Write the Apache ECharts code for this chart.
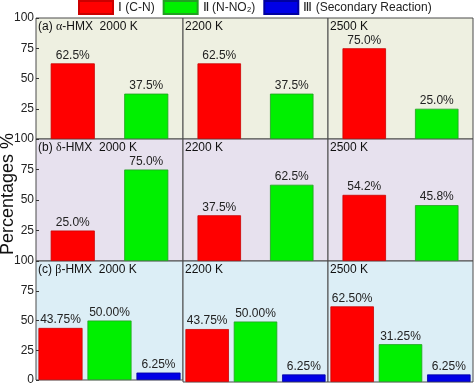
<!DOCTYPE html>
<html>
<head>
<meta charset="utf-8">
<script src="https://cdn.jsdelivr.net/npm/echarts@6/dist/echarts.min.js"></script>
<style>html,body{margin:0;padding:0;background:#fff}#c{width:474px;height:386px}</style>
</head>
<body>
<div id="c"></div>
<script>
// ---- data ----
const temperatures = ['2000 K', '2200 K', '2500 K'];
const phaseLabels = ['(a) α-HMX', '(b) δ-HMX', '(c) β-HMX'];
const seriesNames = ['Ⅰ (C-N)', 'Ⅱ (N-NO₂)', 'Ⅲ (Secondary Reaction)'];
const categoriesAB = ['Ⅰ', 'Ⅱ'];
const categoriesC = ['Ⅰ', 'Ⅱ', 'Ⅲ'];
const alphaI = [62.5, 62.5, 75.0];
const alphaII = [37.5, 37.5, 25.0];
const deltaI = [25.0, 37.5, 54.2];
const deltaII = [75.0, 62.5, 45.8];
const betaI = [43.75, 43.75, 62.50];
const betaII = [50.00, 50.00, 31.25];
const betaIII = [6.25, 6.25, 6.25];
const yTickValues = [0, 25, 50, 75, 100];

// ---- layout ----
const rows = [
  { cats: categoriesAB, vals: [alphaI, alphaII], bg: '#eef0e1', dec: 1 },
  { cats: categoriesAB, vals: [deltaI, deltaII], bg: '#e7e1ee', dec: 1 },
  { cats: categoriesC, vals: [betaI, betaII, betaIII], bg: '#dceef6', dec: 2 }
];
const colLeft = [36, 183, 328];
const colWidth = [147, 145, 145];
const rowTop = [18, 139, 261];
const rowHeight = [121, 122, 121];
const colors = ['#ff0000', '#00f000', '#0000e6'];
const borders = ['#cc0000', '#22a022', '#0000a0'];
const sans = 'Liberation Sans, Arial';
const serif = 'Liberation Serif, Times New Roman';

const grid = [], xAxis = [], yAxis = [], series = [], title = [];
let gi = 0;
rows.forEach((row, r) => {
  for (let c = 0; c < 3; c++) {
    grid.push({
      left: colLeft[c], top: rowTop[r], width: colWidth[c], height: rowHeight[r],
      show: true, backgroundColor: row.bg, borderColor: '#4a4a4a', borderWidth: 1
    });
    xAxis.push({
      gridIndex: gi, type: 'category', data: row.cats,
      axisLine: { show: false }, axisTick: { show: false }, axisLabel: { show: false },
      splitLine: { show: false }
    });
    yAxis.push({
      gridIndex: gi, type: 'value', min: yTickValues[0], max: yTickValues[yTickValues.length - 1],
      interval: 25, splitLine: { show: false },
      axisLine: { show: false },
      axisTick: { show: c === 0, inside: true, length: 3, lineStyle: { color: '#333' } },
      axisLabel: {
        show: c === 0, showMinLabel: r === 2, color: '#222', fontSize: 12,
        fontFamily: sans, margin: 2
      }
    });
    const pre = c === 0 ? phaseLabels[r].split(' ') : null;
    title.push({
      text: c === 0
        ? pre[0] + ' {g|' + pre[1].slice(0, 1) + '}' + pre[1].slice(1) + '  ' + temperatures[c]
        : temperatures[c],
      left: colLeft[c] + 2, top: rowTop[r] + 3, padding: 0,
      textStyle: {
        fontSize: 12, fontWeight: 'normal', color: '#111', fontFamily: sans,
        rich: { g: { fontSize: 12, fontFamily: serif, color: '#111' } }
      }
    });
    row.vals.forEach((arr, k) => {
      const data = row.cats.map((_, j) => (j === k ? arr[c] : '-'));
      series.push({
        name: seriesNames[k], type: 'bar', xAxisIndex: gi, yAxisIndex: gi,
        stack: 'g' + gi, data: data,
        barWidth: row.cats.length === 2 ? '60%' : '90%',
        itemStyle: { color: colors[k], borderColor: borders[k], borderWidth: 0.8 },
        label: {
          show: true, position: 'top', distance: 2, color: '#222', fontSize: 12,
          fontFamily: sans,
          formatter: (p) => Number(p.value).toFixed(row.dec) + '%'
        },
        emphasis: { disabled: true }
      });
    });
    gi++;
  }
});

const chart = echarts.init(document.getElementById('c'), null, { renderer: 'canvas' });
chart.setOption({
  animation: false,
  title: title,
  legend: {
    data: seriesNames, top: 0, left: 78, itemWidth: 34, itemHeight: 13, itemGap: 8,
    icon: 'rect', padding: 0,
    formatter: (name) => {
      const i = name.indexOf(' ');
      return '{r|' + name.slice(0, i) + '}{t|' + name.slice(i) + '}';
    },
    textStyle: {
      fontSize: 12, color: '#222', fontFamily: sans,
      rich: {
        r: { fontSize: 13, fontFamily: serif, color: '#222' },
        t: { fontSize: 12, fontFamily: sans, color: '#222' }
      }
    }
  },
  grid: grid, xAxis: xAxis, yAxis: yAxis, series: series,
  graphic: [{
    type: 'text', x: 8, y: 194, rotation: Math.PI / 2,
    style: {
      text: 'Percentages %', fontSize: 18, fill: '#111',
      fontFamily: sans, align: 'center', verticalAlign: 'middle'
    }
  }]
});
</script>
</body>
</html>
